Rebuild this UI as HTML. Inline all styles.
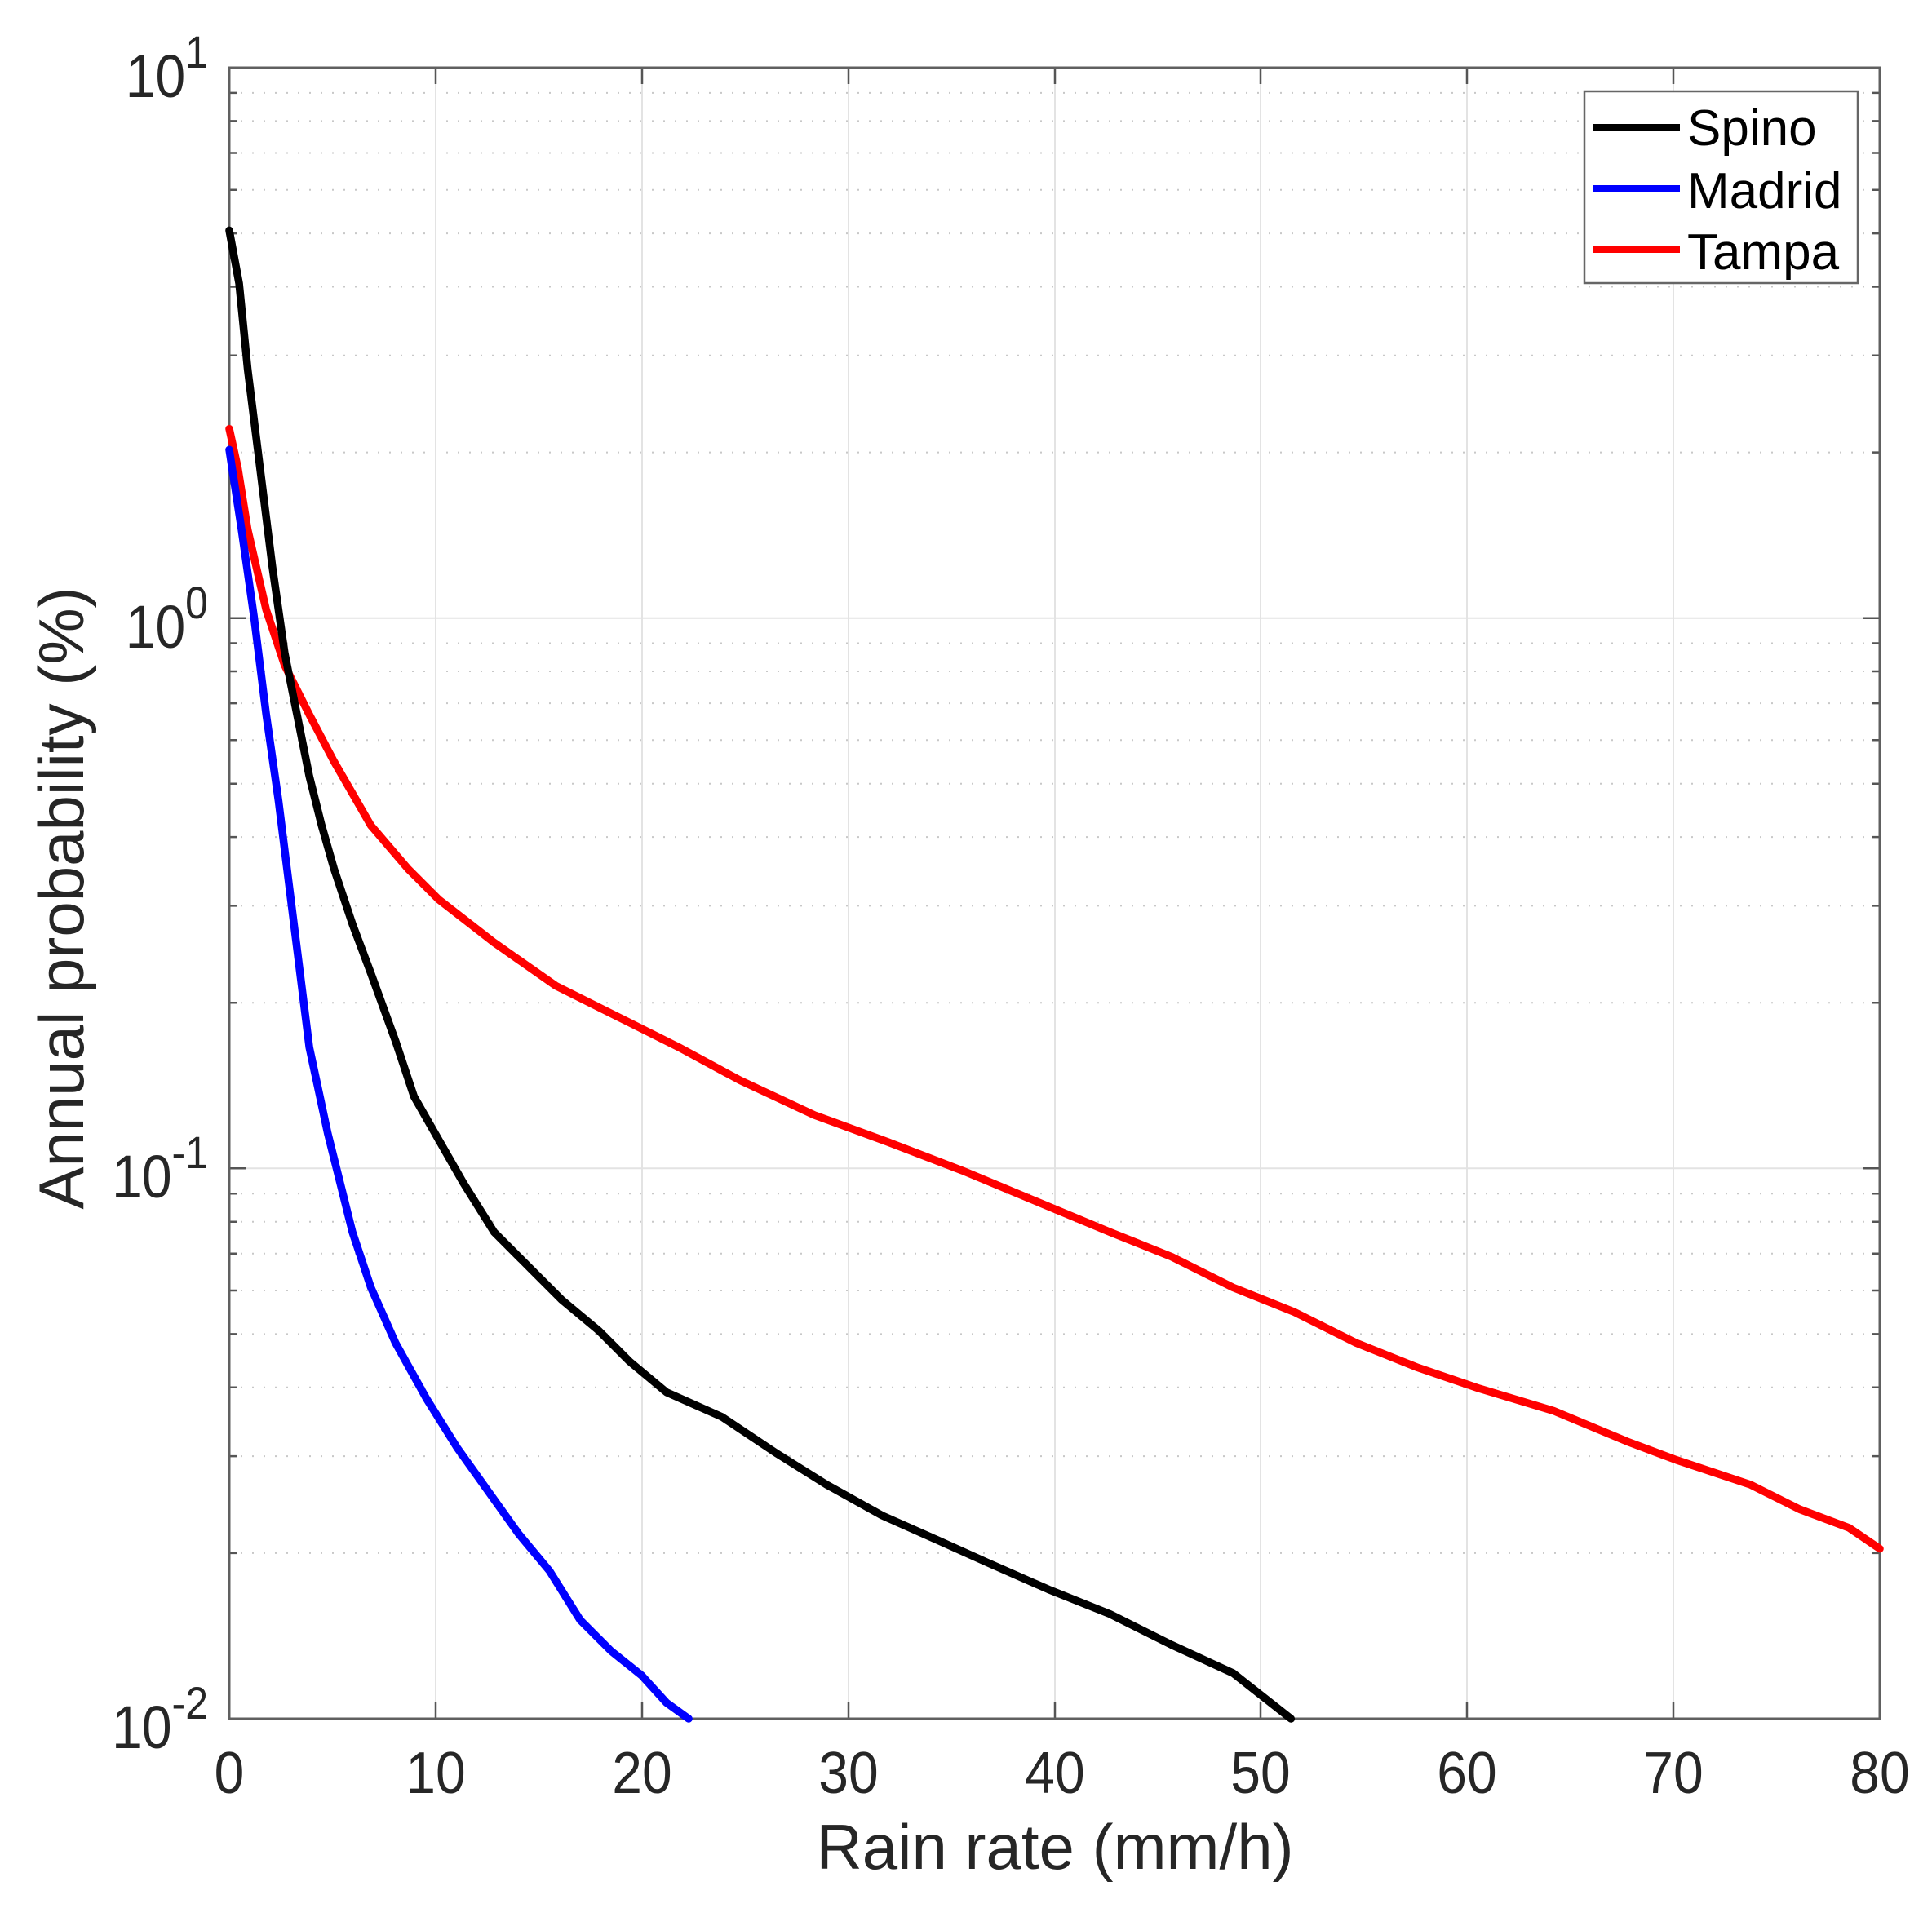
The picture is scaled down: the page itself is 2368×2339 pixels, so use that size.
<!DOCTYPE html>
<html><head><meta charset="utf-8"><style>html,body{margin:0;padding:0;background:#fff}svg{display:block}</style></head>
<body>
<svg width="2368" height="2339" viewBox="0 0 2368 2339" xmlns="http://www.w3.org/2000/svg" font-family="Liberation Sans, Arial, sans-serif">
<rect width="2368" height="2339" fill="#fff"/>
<g stroke="#c8c8c8" stroke-width="2" stroke-dasharray="2,12" fill="none">
<path d="M281 554.6H2304M281 435.8H2304M281 351.5H2304M281 286.1H2304M281 232.7H2304M281 187.5H2304M281 148.4H2304M281 113.9H2304
M281 1229.2H2304M281 1110.4H2304M281 1026.1H2304M281 960.7H2304M281 907.3H2304M281 862.1H2304M281 823H2304M281 788.5H2304
M281 1903.9H2304M281 1785.1H2304M281 1700.8H2304M281 1635.4H2304M281 1582H2304M281 1536.8H2304M281 1497.7H2304M281 1463.2H2304"/>
</g>
<g stroke="#e3e3e3" stroke-width="2" fill="none">
<path d="M281 757.7H2304M281 1432.3H2304"/>
<path d="M534 83V2107M787 83V2107M1040 83V2107M1293 83V2107M1545 83V2107M1798 83V2107M2051 83V2107"/>
</g>
<g stroke="#555" stroke-width="2.5" fill="none">
<path d="M281 757.7h20M281 1432.3h20M2304 757.7h-20M2304 1432.3h-20"/>
<path d="M281 554.6h10M281 435.8h10M281 351.5h10M281 286.1h10M281 232.7h10M281 187.5h10M281 148.4h10M281 113.9h10
M281 1229.2h10M281 1110.4h10M281 1026.1h10M281 960.7h10M281 907.3h10M281 862.1h10M281 823h10M281 788.5h10
M281 1903.9h10M281 1785.1h10M281 1700.8h10M281 1635.4h10M281 1582h10M281 1536.8h10M281 1497.7h10M281 1463.2h10"/>
<path d="M2304 554.6h-10M2304 435.8h-10M2304 351.5h-10M2304 286.1h-10M2304 232.7h-10M2304 187.5h-10M2304 148.4h-10M2304 113.9h-10
M2304 1229.2h-10M2304 1110.4h-10M2304 1026.1h-10M2304 960.7h-10M2304 907.3h-10M2304 862.1h-10M2304 823h-10M2304 788.5h-10
M2304 1903.9h-10M2304 1785.1h-10M2304 1700.8h-10M2304 1635.4h-10M2304 1582h-10M2304 1536.8h-10M2304 1497.7h-10M2304 1463.2h-10"/>
<path d="M534 2107v-20M787 2107v-20M1040 2107v-20M1293 2107v-20M1545 2107v-20M1798 2107v-20M2051 2107v-20"/>
<path d="M534 83v20M787 83v20M1040 83v20M1293 83v20M1545 83v20M1798 83v20M2051 83v20"/>
</g>
<rect x="281" y="83" width="2023" height="2024" fill="none" stroke="#606060" stroke-width="3"/>
<g transform="matrix(1.5097,0,0,1.5104,1.7,0)" fill="none" stroke-width="6.3" stroke-linejoin="round" stroke-linecap="round">
<polyline stroke="#ff0000" points="185,348 192,380 200,430 215,495 230,540 250,580 270,618 300,670 330,705 355,730 400,765 450,800 500,825 550,850 600,877 660,905 720,927 780,950 840,975 900,1000 950,1020 1000,1045 1050,1065 1100,1090 1150,1110 1200,1127 1260,1145 1320,1170 1360,1185 1420,1205 1460,1225 1500,1240 1525,1257"/>
<polyline stroke="#0000ff" points="185,365 195,430 205,500 215,580 225,650 235,730 250,850 265,920 285,1000 300,1045 320,1090 345,1135 370,1175 395,1210 420,1245 445,1275 470,1315 495,1340 520,1360 540,1382 558,1395"/>
<polyline stroke="#000000" points="185,187 193,230 200,300 210,380 220,460 230,530 240,580 250,630 260,670 270,705 285,750 300,790 320,845 335,890 355,925 375,960 400,1000 430,1030 455,1055 485,1080 510,1105 540,1130 585,1150 630,1180 670,1205 715,1230 760,1250 800,1268 850,1290 900,1310 950,1335 1000,1358 1047,1395"/>
</g>
<rect x="1942" y="112" width="335" height="235" fill="#fff" stroke="#666" stroke-width="2.5"/>
<g stroke-width="8">
<line x1="1953" y1="156" x2="2059" y2="156" stroke="#000"/>
<line x1="1953" y1="231" x2="2059" y2="231" stroke="#0000ff"/>
<line x1="1953" y1="306" x2="2059" y2="306" stroke="#ff0000"/>
</g>
<g font-size="62" fill="#000">
<text x="2068" y="178">Spino</text>
<text x="2068" y="255">Madrid</text>
<text x="2068" y="330">Tampa</text>
</g>
<g fill="#262626" font-size="66">
<text transform="translate(255,119) scale(1,1.12)" text-anchor="end">10<tspan font-size="50" dy="-32">1</tspan></text>
<text transform="translate(255,794) scale(1,1.12)" text-anchor="end">10<tspan font-size="50" dy="-32">0</tspan></text>
<text transform="translate(255,1468) scale(1,1.12)" text-anchor="end">10<tspan font-size="50" dy="-32">-1</tspan></text>
<text transform="translate(255,2143) scale(1,1.12)" text-anchor="end">10<tspan font-size="50" dy="-32">-2</tspan></text>
</g>
<g fill="#262626" font-size="66" text-anchor="middle">
<text transform="translate(281,2198) scale(1,1.1)">0</text>
<text transform="translate(534,2198) scale(1,1.1)">10</text>
<text transform="translate(787,2198) scale(1,1.1)">20</text>
<text transform="translate(1040,2198) scale(1,1.1)">30</text>
<text transform="translate(1293,2198) scale(1,1.1)">40</text>
<text transform="translate(1545,2198) scale(1,1.1)">50</text>
<text transform="translate(1798,2198) scale(1,1.1)">60</text>
<text transform="translate(2051,2198) scale(1,1.1)">70</text>
<text transform="translate(2304,2198) scale(1,1.1)">80</text>
</g>
<text x="1293" y="2291" font-size="78" fill="#262626" text-anchor="middle">Rain rate (mm/h)</text>
<text transform="translate(102,1101) rotate(-90)" font-size="78" fill="#262626" text-anchor="middle">Annual probability (%)</text>
</svg>
</body></html>
